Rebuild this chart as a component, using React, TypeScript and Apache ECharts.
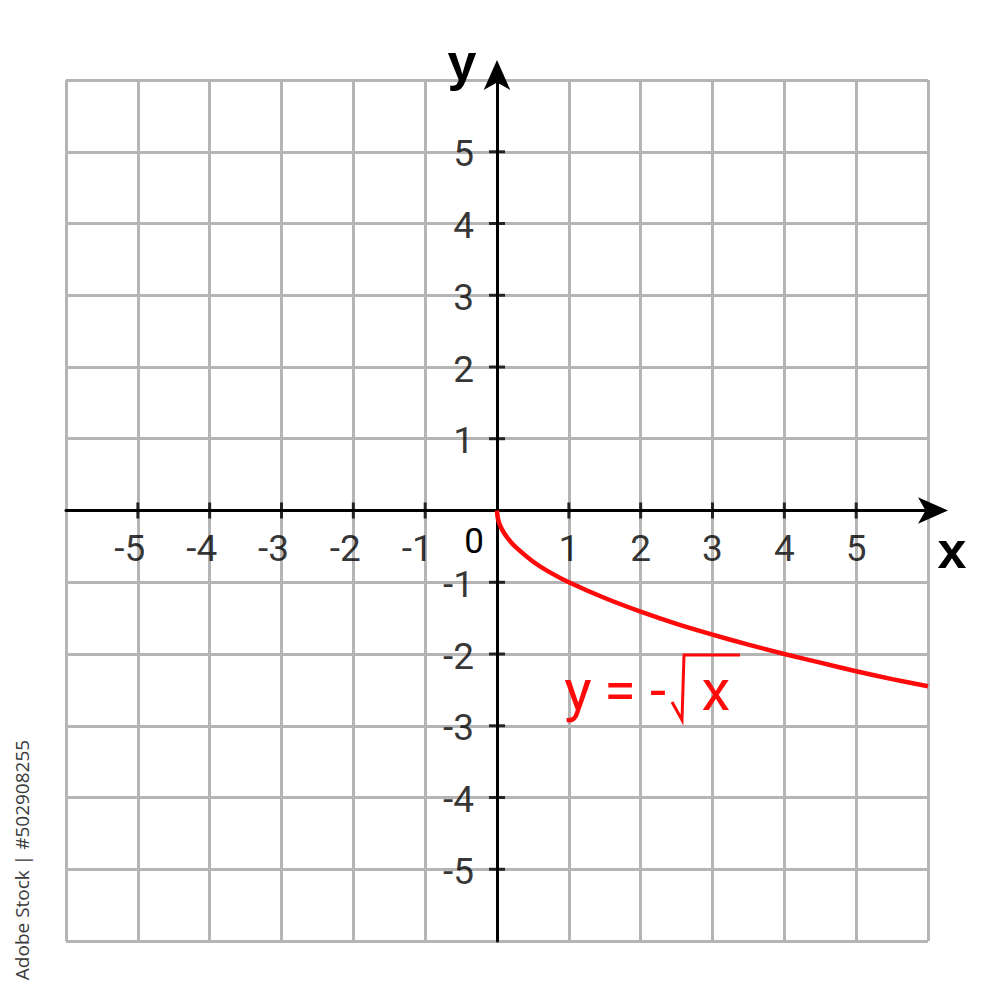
import React, { useEffect, useRef } from 'react';
import * as echarts from 'echarts';

const xTicks = [-5, -4, -3, -2, -1, 1, 2, 3, 4, 5];
const yTicks = [-5, -4, -3, -2, -1, 1, 2, 3, 4, 5];
const curveX = [0, 0.01, 0.04, 0.09, 0.16, 0.25, 0.5, 0.75, 1, 1.5, 2, 2.5, 3, 3.5, 4, 4.5, 5, 5.5, 6];
const curveY = [0, -0.1, -0.2, -0.3, -0.4, -0.5, -0.71, -0.87, -1, -1.22, -1.41, -1.58, -1.73, -1.87, -2, -2.12, -2.24, -2.35, -2.45];
const formulaParts = ['y', '=', '-', 'x'];
const sideText = 'Adobe Stock | #502908255';

const RED = '#ff0a0a';
const GRID = '#b5b5b5';
const LABEL = '#000';

export default function App() {
  const ref = useRef<HTMLDivElement>(null);
  useEffect(() => {
    if (!ref.current) return;
    const chart = echarts.init(ref.current, undefined, { renderer: 'svg' });
    const axisCommon = {
      type: 'value',
      min: -6,
      max: 6,
      interval: 1,
      axisTick: { show: false },
      axisLabel: { show: false },
      splitLine: { show: true, lineStyle: { color: GRID, width: 3 } },
      axisLine: {
        show: true,
        onZero: true,
        symbol: ['none', 'arrow'],
        symbolSize: [20, 30],
        symbolOffset: [0, 20],
        lineStyle: { color: '#000', width: 3 },
      },
    };
    const labelFont = { fontSize: 37, fontFamily: 'Roboto', color: LABEL };
    chart.setOption({
      animation: false,
      backgroundColor: '#fff',
      grid: { left: 66, top: 80, width: 862, height: 861, containLabel: false },
      xAxis: { ...axisCommon },
      yAxis: { ...axisCommon },
      series: [
        {
          type: 'scatter',
          data: xTicks.map((v) => ({ value: [v, 0], label: { offset: [v < 0 ? -8 : 0, 0] } })),
          symbol: 'rect',
          symbolSize: [3, 16],
          itemStyle: { color: '#000' },
          label: {
            show: true,
            position: 'bottom',
            distance: 11,
            ...labelFont,
            formatter: (p: any) => String(p.value[0]),
          },
          silent: true,
          z: 3,
        },
        {
          type: 'scatter',
          data: yTicks.map((v) => [0, v]),
          symbol: 'rect',
          symbolSize: [16, 3],
          itemStyle: { color: '#000' },
          label: {
            show: true,
            position: 'left',
            distance: 15,
            offset: [0, 2],
            ...labelFont,
            formatter: (p: any) => String(p.value[1]),
          },
          silent: true,
          z: 3,
        },
        {
          type: 'line',
          data: curveX.map((x, i) => [x, curveY[i]]),
          showSymbol: false,
          smooth: 0.3,
          lineStyle: { color: RED, width: 4.5 },
          z: 5,
        },
      ],
      graphic: [
        { type: 'text', z: 100, x: 474, y: 541, style: { text: '0', fontSize: 35, fontFamily: 'Roboto', fill: LABEL, align: 'center', verticalAlign: 'middle' } },
        { type: 'text', z: 100, x: 952, y: 550, style: { text: 'x', fontSize: 52, fontWeight: 'bold', fontFamily: 'Liberation Sans', fill: '#000', align: 'center', verticalAlign: 'middle' } },
        { type: 'text', z: 100, x: 462, y: 62, style: { text: 'y', fontSize: 52, fontWeight: 'bold', fontFamily: 'Liberation Sans', fill: '#000', align: 'center', verticalAlign: 'middle' } },
        { type: 'text', z: 100, x: 578, y: 690, style: { text: formulaParts[0], fontSize: 58, fontFamily: 'Roboto', fill: RED, align: 'center', verticalAlign: 'middle' } },
        { type: 'text', z: 100, x: 620, y: 690, style: { text: formulaParts[1], fontSize: 58, fontFamily: 'Roboto', fill: RED, align: 'center', verticalAlign: 'middle' } },
        { type: 'text', z: 100, x: 658, y: 690, style: { text: formulaParts[2], fontSize: 58, fontFamily: 'Roboto', fill: RED, align: 'center', verticalAlign: 'middle' } },
        { type: 'text', z: 100, x: 716, y: 690, style: { text: formulaParts[3], fontSize: 58, fontFamily: 'Roboto', fill: RED, align: 'center', verticalAlign: 'middle' } },
        { type: 'polyline', z: 100, shape: { points: [[672, 702], [682, 720], [684, 655], [740, 655]] }, style: { stroke: RED, lineWidth: 3, fill: null } },
        { type: 'text', z: 100, x: 22, y: 860, rotation: Math.PI / 2, style: { text: sideText, fontSize: 19, fontFamily: 'Open Sans', fill: '#3a3a3a', align: 'center', verticalAlign: 'middle' } },
      ],
    });
    return () => chart.dispose();
  }, []);
  return <div ref={ref} style={{ position: 'absolute', left: 0, top: 0, width: 1000, height: 1000 }} />;
}
